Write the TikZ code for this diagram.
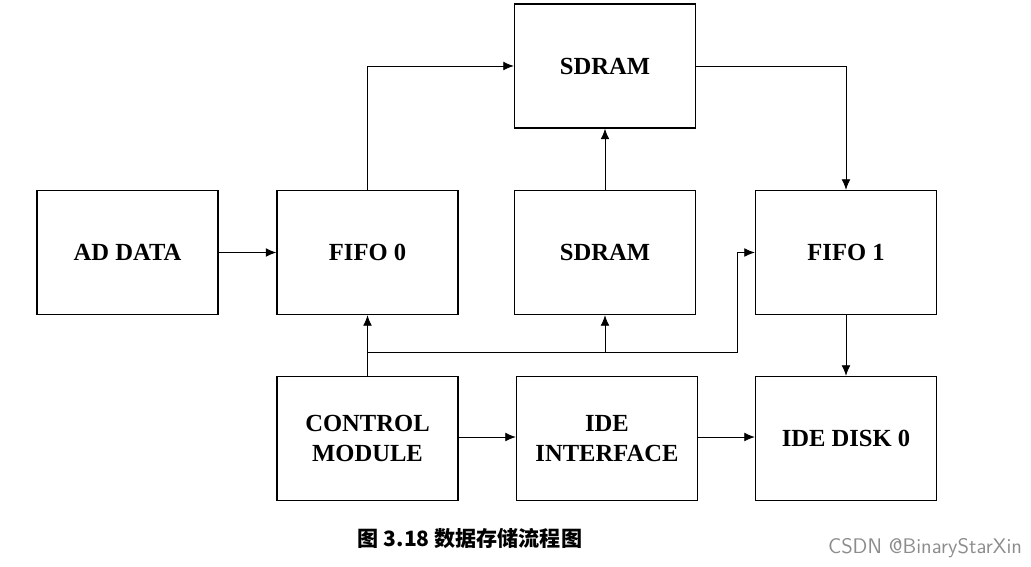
\documentclass[tikz,border=0pt]{standalone}
\usepackage{fontspec}
\setmainfont{Liberation Serif}
\newfontfamily\cjk{Noto Sans CJK SC}
\usetikzlibrary{arrows.meta}
\tikzset{
  blk/.style={draw, line width=0.8pt, minimum width=3.62cm, minimum height=2.48cm,
    align=center, font=\bfseries\fontsize{14}{17}\selectfont},
  arr/.style={-{Latex[length=6pt,width=5pt]}, line width=0.5pt}
}
\begin{document}
\begin{tikzpicture}[x=0.02cm,y=-0.02cm]
  \useasboundingbox (0,0) rectangle (1031,566);

  % boxes
  \node [blk] (ad)     at (127.5,252.5) {AD DATA};
  \node [blk] (fifo0)  at (367.5,252.5) {FIFO 0};
  \node [blk] (sdram1) at (605,66)      {SDRAM};
  \node [blk] (sdram2) at (605,252.5)   {SDRAM};
  \node [blk] (fifo1)  at (846,252.5)   {FIFO 1};
  \node [blk] (ctrl)   at (367.5,438.5) {CONTROL\\MODULE};
  \node [blk] (ide)    at (607,438.5)   {IDE\\INTERFACE};
  \node [blk] (disk)   at (846,438.5)   {IDE DISK 0};

  % control bus
  \coordinate (j) at (367.5,352);
  \coordinate (k) at (737,352);

  \draw [arr] (ad) -- (fifo0);
  \draw [arr] (fifo0.north) |- (sdram1.west);
  \draw [arr] (sdram1.east) -| (fifo1.north);
  \draw [arr] (sdram2.north) -- (sdram1.south);
  \draw [arr] (ctrl.north) -- (fifo0.south);
  \draw [arr] (j) -- (k) |- (fifo1.west);
  \draw [arr] (sdram2.south |- j) -- (sdram2.south);
  \draw [arr] (fifo1.south) -- (disk.north);
  \draw [arr] (ctrl.east |- 0,437) -- (ide.west |- 0,437);
  \draw [arr] (ide.east |- 0,437) -- (disk.west |- 0,437);

  % caption
  \node (cap) at (470,538) {\cjk\bfseries\fontsize{12}{14}\selectfont 图 3.18 数据存储流程图};
  \node [text=black!45, font=\sffamily\fontsize{12}{14}\selectfont] (wm) at (925,548) {CSDN @BinaryStarXin};
\end{tikzpicture}
\end{document}
